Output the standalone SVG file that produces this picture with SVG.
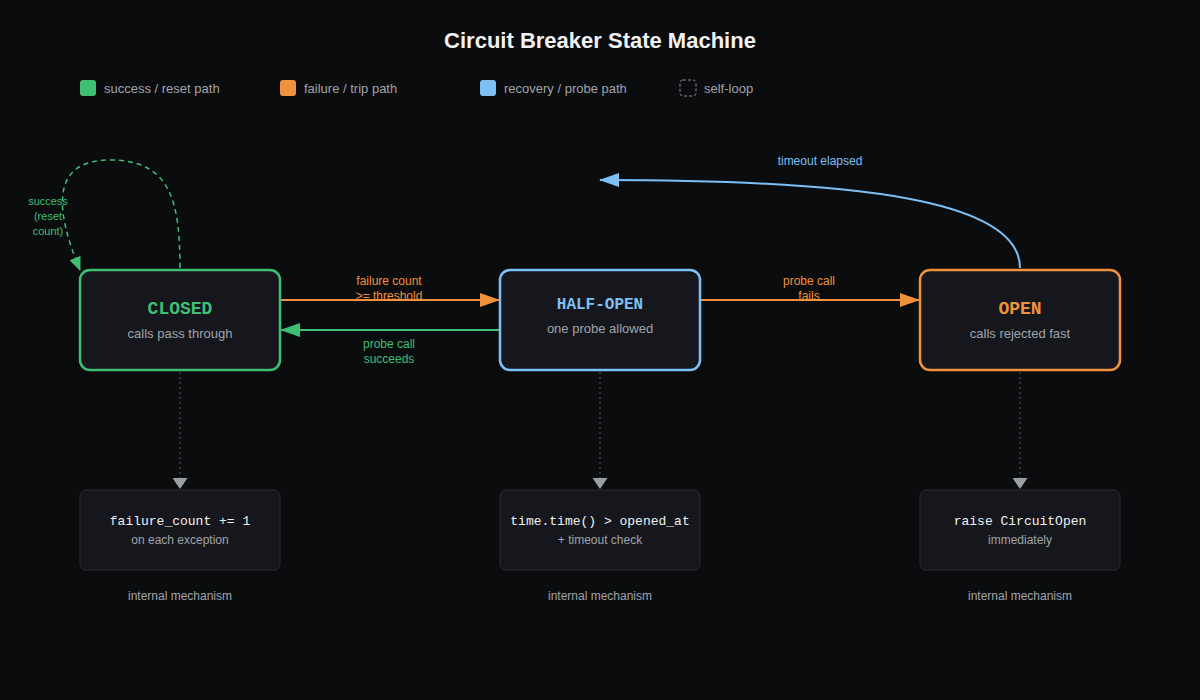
<svg xmlns="http://www.w3.org/2000/svg" width="1200" height="700" viewBox="0 0 1200 700">
<style>
text{font-family:"Liberation Sans",Arial,sans-serif}
.mono{font-family:"Liberation Mono","DejaVu Sans Mono",monospace}
.state{fill:#15171c;stroke-width:2.5}
.mech{fill:#15171c;stroke:#2a2d33;stroke-width:1}
.sub{fill:#a0a4aa;font-size:13px}
.lbl{font-size:12px}
.cap{fill:#a0a4aa;font-size:12px}
</style>
<defs>
<marker id="ag" markerWidth="20" markerHeight="14" refX="19" refY="7" orient="auto" markerUnits="userSpaceOnUse"><path d="M0,0L20,7L0,14z" fill="#3fbf74"/></marker>
<marker id="ao" markerWidth="20" markerHeight="14" refX="19" refY="7" orient="auto" markerUnits="userSpaceOnUse"><path d="M0,0L20,7L0,14z" fill="#f0913c"/></marker>
<marker id="ab" markerWidth="20" markerHeight="14" refX="19" refY="7" orient="auto" markerUnits="userSpaceOnUse"><path d="M0,0L20,7L0,14z" fill="#7cc0f5"/></marker>
<marker id="agr" markerWidth="11" markerHeight="15" refX="10" refY="7.5" orient="auto" markerUnits="userSpaceOnUse"><path d="M0,0L11,7.5L0,15z" fill="#9a9da3"/></marker>
<marker id="asl" markerWidth="14" markerHeight="12" refX="13" refY="6" orient="auto" markerUnits="userSpaceOnUse"><path d="M0,0L14,6L0,12z" fill="#3fbf74"/></marker>
</defs>
<rect width="1200" height="700" fill="#0b0c0e"/>
<text x="600" y="48" text-anchor="middle" font-size="22" font-weight="bold" fill="#f2f2f2">Circuit Breaker State Machine</text>
<g id="legend">
<rect x="80" y="80" width="16" height="16" rx="3" fill="#3fbf74"/><text x="104" y="93" font-size="13" fill="#a0a4aa">success / reset path</text>
<rect x="280" y="80" width="16" height="16" rx="3" fill="#f0913c"/><text x="304" y="93" font-size="13" fill="#a0a4aa">failure / trip path</text>
<rect x="480" y="80" width="16" height="16" rx="3" fill="#7cc0f5"/><text x="504" y="93" font-size="13" fill="#a0a4aa">recovery / probe path</text>
<rect x="680" y="80" width="16" height="16" rx="3" fill="none" stroke="#8a8d93" stroke-dasharray="3,2"/><text x="704" y="93" font-size="13" fill="#a0a4aa">self-loop</text>
</g>
<g id="connectors" fill="none">
<path d="M180,268 C180,200 170,160 110,160 C50,160 55,210 80,270" stroke="#3fbf74" stroke-width="1.5" stroke-dasharray="5,4" marker-end="url(#asl)"/>
<line x1="281" y1="300" x2="499" y2="300" stroke="#f0913c" stroke-width="2" marker-end="url(#ao)"/>
<line x1="499" y1="330" x2="281" y2="330" stroke="#3fbf74" stroke-width="2" marker-end="url(#ag)"/>
<line x1="701" y1="300" x2="919" y2="300" stroke="#f0913c" stroke-width="2" marker-end="url(#ao)"/>
<path d="M1020,268 C1020,200 860,180 600,180" stroke="#7cc0f5" stroke-width="2" marker-end="url(#ab)"/>
<line x1="180" y1="372" x2="180" y2="488" stroke="#55585e" stroke-width="1" stroke-dasharray="2,3" marker-end="url(#agr)"/>
<line x1="600" y1="372" x2="600" y2="488" stroke="#55585e" stroke-width="1" stroke-dasharray="2,3" marker-end="url(#agr)"/>
<line x1="1020" y1="372" x2="1020" y2="488" stroke="#55585e" stroke-width="1" stroke-dasharray="2,3" marker-end="url(#agr)"/>
</g>
<g id="edge-labels" text-anchor="middle" class="lbl">
<text x="48" y="205" fill="#3fbf74" font-size="11">success</text>
<text x="48" y="220" fill="#3fbf74" font-size="11">(reset</text>
<text x="48" y="235" fill="#3fbf74" font-size="11">count)</text>
<text x="389" y="285" fill="#f0913c">failure count</text>
<text x="389" y="300" fill="#f0913c">&gt;= threshold</text>
<text x="389" y="348" fill="#3fbf74">probe call</text>
<text x="389" y="363" fill="#3fbf74">succeeds</text>
<text x="809" y="285" fill="#f0913c">probe call</text>
<text x="809" y="300" fill="#f0913c">fails</text>
<text x="820" y="165" fill="#7cc0f5">timeout elapsed</text>
</g>
<g id="closed"><rect class="state" x="80" y="270" width="200" height="100" rx="10" stroke="#3fbf74"/>
<text class="mono" x="180" y="314" text-anchor="middle" font-size="18" font-weight="bold" fill="#3fbf74">CLOSED</text>
<text class="sub" x="180" y="338" text-anchor="middle">calls pass through</text></g>
<g id="half-open"><rect class="state" x="500" y="270" width="200" height="100" rx="10" stroke="#7cc0f5"/>
<text class="mono" x="600" y="309" text-anchor="middle" font-size="16" font-weight="bold" fill="#7cc0f5">HALF-OPEN</text>
<text class="sub" x="600" y="333" text-anchor="middle">one probe allowed</text></g>
<g id="open"><rect class="state" x="920" y="270" width="200" height="100" rx="10" stroke="#f0913c"/>
<text class="mono" x="1020" y="314" text-anchor="middle" font-size="18" font-weight="bold" fill="#f0913c">OPEN</text>
<text class="sub" x="1020" y="338" text-anchor="middle">calls rejected fast</text></g>
<g id="mech-closed"><rect class="mech" x="80" y="490" width="200" height="80" rx="6"/>
<text class="mono" x="180" y="525" text-anchor="middle" font-size="13" fill="#f2f2f2">failure_count += 1</text>
<text x="180" y="544" text-anchor="middle" font-size="12" fill="#a0a4aa">on each exception</text>
<text class="cap" x="180" y="600" text-anchor="middle">internal mechanism</text></g>
<g id="mech-half"><rect class="mech" x="500" y="490" width="200" height="80" rx="6"/>
<text class="mono" x="600" y="525" text-anchor="middle" font-size="13" fill="#f2f2f2">time.time() &gt; opened_at</text>
<text x="600" y="544" text-anchor="middle" font-size="12" fill="#a0a4aa">+ timeout check</text>
<text class="cap" x="600" y="600" text-anchor="middle">internal mechanism</text></g>
<g id="mech-open"><rect class="mech" x="920" y="490" width="200" height="80" rx="6"/>
<text class="mono" x="1020" y="525" text-anchor="middle" font-size="13" fill="#f2f2f2">raise CircuitOpen</text>
<text x="1020" y="544" text-anchor="middle" font-size="12" fill="#a0a4aa">immediately</text>
<text class="cap" x="1020" y="600" text-anchor="middle">internal mechanism</text></g>
</svg>
